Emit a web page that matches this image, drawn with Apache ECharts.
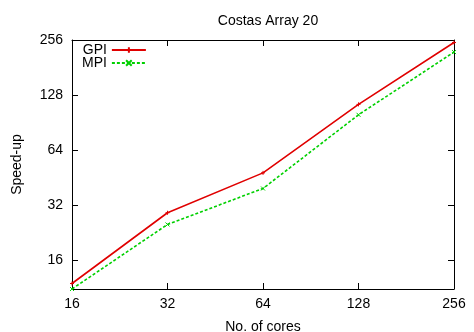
<!DOCTYPE html>
<html><head><meta charset="utf-8">
<script src="https://cdn.jsdelivr.net/npm/echarts@6/dist/echarts.min.js"></script>
<style>html,body{margin:0;padding:0;background:#fff}#c{width:474px;height:332px}</style>
</head><body><div id="c"></div>
<script>
const cores = [16, 32, 64, 128, 256];
const gpi = [12.0, 29.2, 48.2, 114, 248];
const mpi = [11.2, 25.2, 39.6, 100, 220];
const tickValues = [16, 32, 64, 128, 256];
const title = 'Costas Array 20';
const xName = 'No. of cores';
const yName = 'Speed-up';

const font = 'Liberation Sans, Arial, sans-serif';
const isPow = v => tickValues.indexOf(Math.round(v)) >= 0 && Math.abs(v - Math.round(v)) < 1e-6;
const fmt = v => isPow(v) ? String(Math.round(v)) : '';
const plusPath = 'path://M0,5L10,5M5,0L5,10';
const crossPath = 'path://M0,0L10,10M0,10L10,0';

const axisCommon = {
  type: 'log', logBase: 2,
  axisLine: {show: true, lineStyle: {color: '#000', width: 1}},
  axisTick: {show: true, inside: true, length: 6, lineStyle: {color: '#000'}},
  splitLine: {show: false},
  minorTick: {show: false}
};

const chart = echarts.init(document.getElementById('c'), null, {renderer: 'canvas'});
chart.setOption({
  animation: false,
  backgroundColor: '#fff',
  title: {text: title, left: 263, top: 9, textAlign: 'center',
    textStyle: {fontFamily: font, fontSize: 14, fontWeight: 'normal', color: '#000'}},
  grid: {left: 72, right: 20, top: 40, bottom: 43, outerBoundsMode: 'none', containLabel: false},
  legend: {
    orient: 'vertical', left: 82, top: 43, padding: 0, align: 'right', itemGap: -1,
    itemWidth: 34, itemHeight: 7,
    textStyle: {fontFamily: font, fontSize: 14, color: '#000', lineHeight: 14},
    data: ['GPI', 'MPI']
  },
  xAxis: [
    Object.assign({}, axisCommon, {min: 16, max: 256, name: xName, nameLocation: 'middle', nameGap: 31,
      nameTextStyle: {fontFamily: font, fontSize: 14, color: '#000'},
      axisLabel: {formatter: fmt, fontFamily: font, fontSize: 14, color: '#000', margin: 8}}),
    Object.assign({}, axisCommon, {min: 16, max: 256, position: 'top', axisLabel: {show: false}})
  ],
  yAxis: [
    Object.assign({}, axisCommon, {min: 11.2, max: 256, name: yName, nameLocation: 'middle', nameGap: 48,
      nameTextStyle: {fontFamily: font, fontSize: 14, color: '#000'},
      axisLabel: {formatter: fmt, fontFamily: font, fontSize: 14, color: '#000', margin: 9}}),
    Object.assign({}, axisCommon, {min: 11.2, max: 256, position: 'right', axisLabel: {show: false}})
  ],
  series: [
    {name: 'GPI', type: 'line', data: cores.map((c, i) => [c, gpi[i]]),
      symbol: plusPath, symbolSize: 4, showAllSymbol: true,
      lineStyle: {color: '#e00000', width: 1.6}, itemStyle: {color: '#e00000', borderColor: '#e00000', borderWidth: 1}},
    {name: 'MPI', type: 'line', data: cores.map((c, i) => [c, mpi[i]]),
      symbol: crossPath, symbolSize: 4, showAllSymbol: true,
      lineStyle: {color: '#00d000', width: 1.6, type: [3, 2]}, itemStyle: {color: '#00d000', borderColor: '#00d000', borderWidth: 1}}
  ]
});
</script></body></html>
